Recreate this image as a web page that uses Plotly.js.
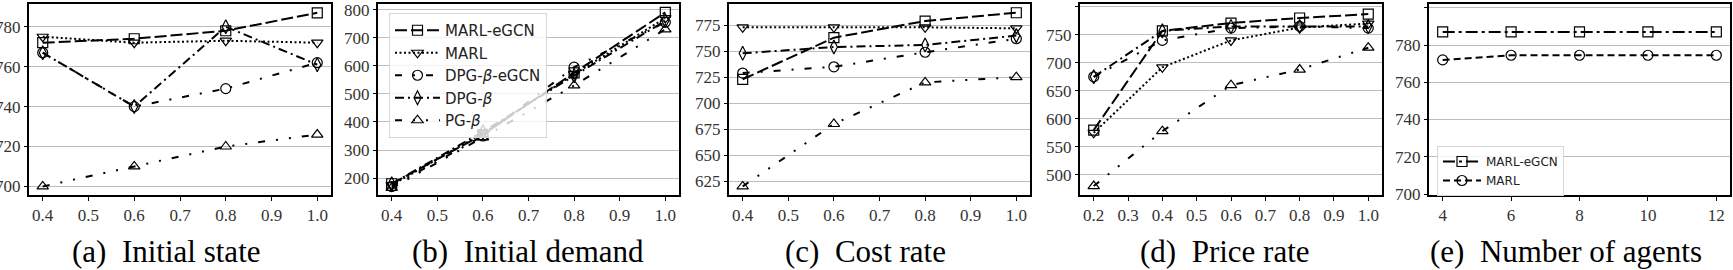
<!DOCTYPE html>
<html>
<head>
<meta charset="utf-8">
<script src="https://cdn.plot.ly/plotly-3.0.1.min.js"></script>
<style>
html,body{margin:0;padding:0;background:#fff;}
#chart{width:1733px;height:270px;}
</style>
</head>
<body>
<div id="chart"></div>
<script>
// ---------- data ----------
const seriesNames = ['MARL-eGCN', 'MARL', 'DPG-<i>β</i>-eGCN', 'DPG-<i>β</i>', 'PG-<i>β</i>'];

// (a) Initial state
const xA = [0.4, 0.6, 0.8, 1.0];
const aMARLeGCN = [772, 774, 778, 787];
const aMARL     = [775, 772, 773, 772];
const aDPGeGCN  = [767, 740, 749, 762];
const aDPG      = [767, 740, 780, 761];
const aPG       = [700, 710, 720, 726];

// (b) Initial demand
const xB = [0.4, 0.6, 0.8, 1.0];
const bMARLeGCN = [180, 355, 575, 790];
const bMARL     = [175, 360, 570, 770];
const bDPGeGCN  = [170, 350, 595, 755];
const bDPG      = [180, 365, 565, 760];
const bPG       = [165, 345, 530, 730];

// (c) Cost rate
const xC = [0.4, 0.6, 0.8, 1.0];
const cMARLeGCN = [723, 763, 779, 787];
const cMARL     = [773, 773, 773, 772];
const cDPGeGCN  = [729, 735, 749, 762];
const cDPG      = [748, 754, 756, 765];
const cPG       = [620, 680, 720, 725];

// (d) Price rate
const xD = [0.2, 0.4, 0.6, 0.8, 1.0];
const dMARLeGCN = [580, 757, 771, 780, 787];
const dMARL     = [575, 692, 740, 763, 770];
const dDPGeGCN  = [675, 740, 762, 765, 762];
const dDPG      = [675, 757, 765, 765, 765];
const dPG       = [480, 578, 660, 688, 727];

// (e) Number of agents
const xE = [4, 6, 8, 10, 12];
const eMARLeGCN = [787, 787, 787, 787, 787];
const eMARL     = [772, 774.5, 774.5, 774.5, 774.5];

// tick labels
const tickX1 = [0.4, 0.5, 0.6, 0.7, 0.8, 0.9, 1.0];
const tickX1Text = ['0.4', '0.5', '0.6', '0.7', '0.8', '0.9', '1.0'];
const tickXD = [0.2, 0.3, 0.4, 0.5, 0.6, 0.7, 0.8, 0.9, 1.0];
const tickXDText = ['0.2', '0.3', '0.4', '0.5', '0.6', '0.7', '0.8', '0.9', '1.0'];
const tickXE = [4, 6, 8, 10, 12];
const tickYA = [700, 720, 740, 760, 780];
const tickYB = [200, 300, 400, 500, 600, 700, 800];
const tickYC = [625, 650, 675, 700, 725, 750, 775];
const tickYD = [500, 550, 600, 650, 700, 750, 800];
const tickYE = [700, 720, 740, 760, 780, 800];

const captions = ['(a)  Initial state', '(b)  Initial demand', '(c)  Cost rate', '(d)  Price rate', '(e)  Number of agents'];

// ---------- styles ----------
const styles = [
  {dash: '12px,4px', symbol: 'square-open'},
  {dash: '2px,2.5px', symbol: 'triangle-down-open'},
  {dash: '7px,11px,2px,11px', symbol: 'circle-open'},
  {dash: '9px,4px,2px,4px', symbol: 'diamond-tall-open'},
  {dash: '7px,11px,2px,11px,2px,11px', symbol: 'triangle-up-open'}
];

const traces = [];
function addPanel(idx, x, ys, legendOn) {
  const sfx = idx === 0 ? '' : String(idx + 1);
  ys.forEach((y, i) => {
    traces.push({
      type: 'scatter', mode: 'lines+markers',
      x: x, y: y, name: seriesNames[i],
      xaxis: 'x' + sfx, yaxis: 'y' + sfx,
      showlegend: legendOn, legendgroup: 'g' + i,
      line: {color: '#000', width: 2, dash: styles[i].dash},
      marker: {symbol: styles[i].symbol, size: 10, color: '#000', line: {width: 1.2, color: '#000'}}
    });
  });
}
addPanel(0, xA, [aMARLeGCN, aMARL, aDPGeGCN, aDPG, aPG], false);
addPanel(1, xB, [bMARLeGCN, bMARL, bDPGeGCN, bDPG, bPG], true);
addPanel(2, xC, [cMARLeGCN, cMARL, cDPGeGCN, cDPG, cPG], false);
addPanel(3, xD, [dMARLeGCN, dMARL, dDPGeGCN, dDPG, dPG], false);

// (e)
traces.push({
  type: 'scatter', mode: 'lines+markers', x: xE, y: eMARLeGCN, name: 'MARL-eGCN',
  xaxis: 'x5', yaxis: 'y5', legend: 'legend2', legendgroup: 'e0',
  line: {color: '#000', width: 2, dash: '12px,4px,3px,4px'},
  marker: {symbol: 'square-open', size: 10, color: '#000', line: {width: 1.2}}
});
traces.push({
  type: 'scatter', mode: 'lines+markers', x: xE, y: eMARL, name: 'MARL',
  xaxis: 'x5', yaxis: 'y5', legend: 'legend2', legendgroup: 'e1',
  line: {color: '#000', width: 2, dash: '7px,4px'},
  marker: {symbol: 'circle-open', size: 10, color: '#000', line: {width: 1.2}}
});

// ---------- layout ----------
const W = 1733, H = 270;
const px = [[29, 331], [378, 679], [729, 1030], [1080, 1382], [1429, 1730]];
const yDom = [1 - 195 / H, 1 - 4 / H];
const xRanges = [[0.37, 1.03], [0.37, 1.03], [0.37, 1.03], [0.16, 1.04], [3.6, 12.4]];
const yRanges = [[695.7, 791.4], [140, 820], [611.7, 795.4], [464, 805], [699.5, 802]];
const xTicks = [[tickX1, tickX1Text], [tickX1, tickX1Text], [tickX1, tickX1Text], [tickXD, tickXDText], [tickXE, tickXE.map(String)]];
const yTicks = [tickYA, tickYB, tickYC, tickYD, tickYE];
const capX = [166, 528, 865, 1225, 1566];

const tickFont = {family: 'Liberation Serif, serif', size: 17, color: '#333'};
const layout = {
  width: W, height: H,
  margin: {l: 0, r: 0, t: 0, b: 0},
  paper_bgcolor: '#fff', plot_bgcolor: '#fff',
  showlegend: true,
  legend: {
    x: 389 / W, y: 1 - 13 / H, xanchor: 'left', yanchor: 'top',
    bgcolor: 'rgba(255,255,255,0.8)', bordercolor: '#d6d6d6', borderwidth: 1,
    font: {family: 'DejaVu Sans, sans-serif', size: 15, color: '#222'},
    tracegroupgap: 0, itemwidth: 45
  },
  legend2: {
    x: 1437 / W, y: 1 - 146 / H, xanchor: 'left', yanchor: 'top',
    bgcolor: 'rgba(255,255,255,0.8)', bordercolor: '#d6d6d6', borderwidth: 1,
    font: {family: 'DejaVu Sans, sans-serif', size: 12, color: '#222'},
    tracegroupgap: 0, itemwidth: 38
  },
  annotations: captions.map((t, i) => ({
    text: t, xref: 'paper', yref: 'paper', x: capX[i] / W, y: 1 - 251 / H,
    xanchor: 'center', yanchor: 'middle', showarrow: false,
    font: {family: 'Liberation Serif, Times New Roman, serif', size: 31, color: '#000'}
  }))
};
for (let i = 0; i < 5; i++) {
  const sfx = i === 0 ? '' : String(i + 1);
  layout['xaxis' + sfx] = {
    domain: [px[i][0] / W, px[i][1] / W], anchor: 'y' + sfx,
    range: xRanges[i], tickmode: 'array', tickvals: xTicks[i][0], ticktext: xTicks[i][1],
    showgrid: false, zeroline: false, showline: true, mirror: true, linecolor: '#000', linewidth: 2,
    ticks: 'outside', ticklen: 4, tickwidth: 1, tickcolor: '#000', tickfont: tickFont
  };
  layout['yaxis' + sfx] = {
    domain: yDom, anchor: 'x' + sfx,
    range: yRanges[i], tickmode: 'array', tickvals: yTicks[i],
    showgrid: true, gridcolor: '#bdbdbd', gridwidth: 1, zeroline: false,
    showline: true, mirror: true, linecolor: '#000', linewidth: 2,
    ticks: 'outside', ticklen: 3, tickwidth: 1, tickcolor: '#000', tickfont: tickFont
  };
}

Plotly.newPlot('chart', traces, layout, {displayModeBar: false, staticPlot: true});
</script>
</body>
</html>
